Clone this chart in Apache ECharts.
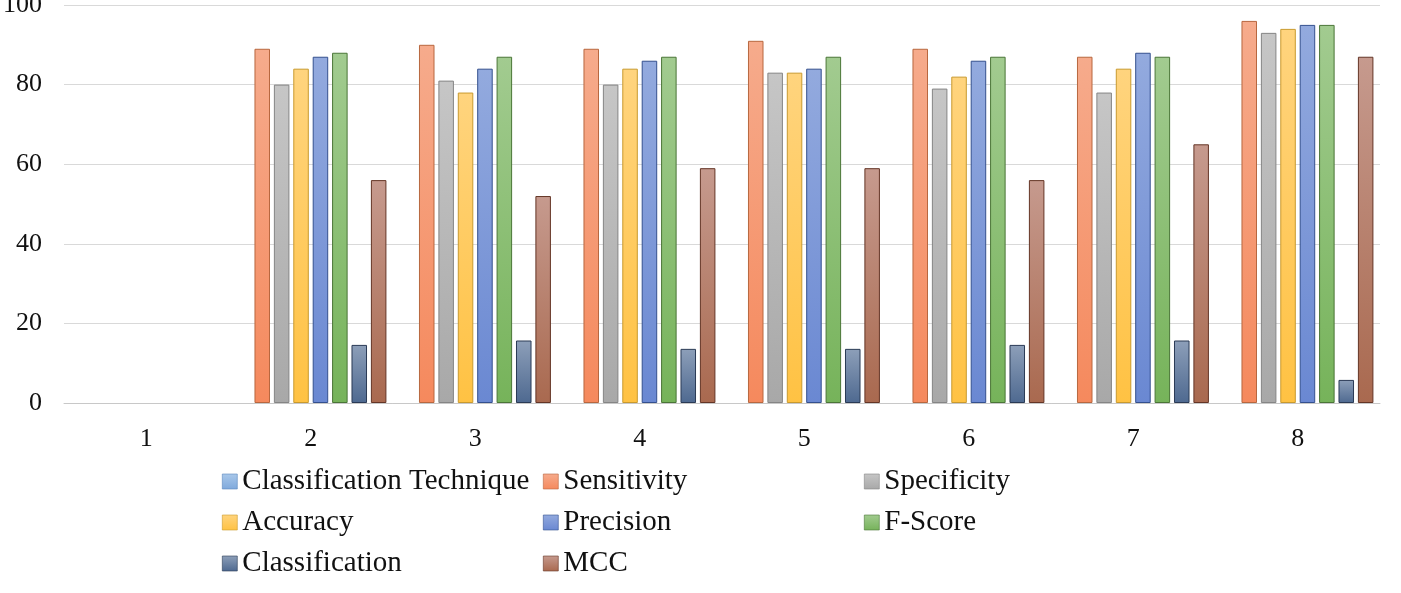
<!DOCTYPE html>
<html>
<head>
<meta charset="utf-8">
<script src="https://cdn.jsdelivr.net/npm/echarts@6/dist/echarts.min.js"></script>
<style>html,body{margin:0;padding:0;background:#fff}#c{width:1401px;height:593px}</style>
</head>
<body>
<div id="c"></div>
<script>
const categories = ['1','2','3','4','5','6','7','8'];
const classificationTechnique = [null,0,0,0,0,0,0,0];
const sensitivity   = [null,89,90,89,91,89,87,96];
const specificity   = [null,80,81,80,83,79,78,93];
const accuracy      = [null,84,78,84,83,82,84,94];
const precision     = [null,87,84,86,84,86,88,95];
const fScore        = [null,88,87,87,87,87,87,95];
const classification= [null,14.6,15.7,13.6,13.6,14.6,15.7,5.8];
const mcc           = [null,56,52,59,59,56,65,87];
const yTicks = [0,20,40,60,80,100];

const styles = {
  'Classification Technique': ['#a9c8ea','#7fa9dc','#5b86bd'],
  'Sensitivity': ['#f6ab8c','#f5895d','#b8673f'],
  'Specificity': ['#c6c6c6','#a8a8a8','#858585'],
  'Accuracy': ['#ffd47e','#ffc243','#c99a2e'],
  'Precision': ['#93aade','#6a88d2','#34508e'],
  'F-Score': ['#a2cb90','#76b35a','#4a7537'],
  'Classification': ['#8d9fb9','#4e6990','#2a3a55'],
  'MCC': ['#c69a8e','#a9694f','#643526']
};
function grad(n){
  const s = styles[n];
  return {type:'linear',x:0,y:0,x2:0,y2:1,colorStops:[{offset:0,color:s[0]},{offset:1,color:s[1]}]};
}
const seriesDefs = [
  ['Classification Technique', classificationTechnique],
  ['Sensitivity', sensitivity],
  ['Specificity', specificity],
  ['Accuracy', accuracy],
  ['Precision', precision],
  ['F-Score', fScore],
  ['Classification', classification],
  ['MCC', mcc]
];
const series = seriesDefs.map(([n,d]) => ({
  name: n, type: 'bar', data: d,
  barGap: '25%', barCategoryGap: '8%',
  itemStyle: {color: grad(n), borderColor: styles[n][2], borderWidth: n==='Classification Technique'?0:1},
  emphasis: {disabled: true}
}));
const font = 'Liberation Serif, Times New Roman, serif';
const legendBase = {
  orient: 'vertical', top: 467, itemWidth: 15, itemHeight: 15, itemGap: 12,
  icon: 'rect', selectedMode: false, padding: 0,
  itemStyle: {borderWidth: 0.6},
  textStyle: {fontFamily: font, fontSize: 29, color: '#111', lineHeight: 26, padding:[0,0,0,0]}
};
const chart = echarts.init(document.getElementById('c'), null, {renderer: 'canvas'});
chart.setOption({
  animation: false,
  backgroundColor: '#fff',
  grid: {left: 64, right: 21, top: 5, bottom: 190, containLabel: false, outerBoundsMode: 'none'},
  xAxis: {
    type: 'category', data: categories,
    axisLine: {lineStyle: {color: '#c8c8c8'}},
    axisTick: {show: false},
    axisLabel: {fontFamily: font, fontSize: 26, color: '#111', margin: 23}
  },
  yAxis: {
    type: 'value', min: 0, max: 100, interval: 20,
    axisLine: {show: false}, axisTick: {show: false},
    splitLine: {lineStyle: {color: '#d9d9d9'}},
    axisLabel: {fontFamily: font, fontSize: 26, color: '#111', margin: 22}
  },
  legend: [
    Object.assign({}, legendBase, {left: 222, data: ['Classification Technique','Accuracy','Classification']}),
    Object.assign({}, legendBase, {left: 543, data: ['Sensitivity','Precision','MCC']}),
    Object.assign({}, legendBase, {left: 864, data: ['Specificity','F-Score']})
  ],
  series: series
});
</script>
</body>
</html>
